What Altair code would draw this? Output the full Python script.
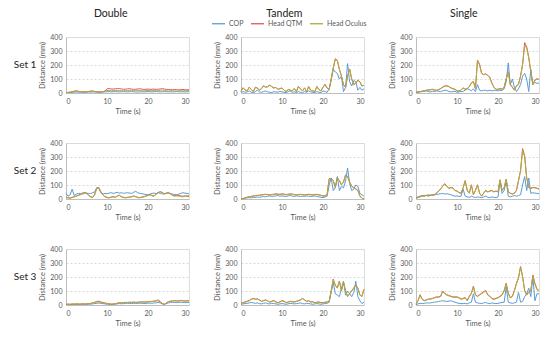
import altair as alt
import pandas as pd

T = [0, 0.5, 1, 1.5, 2, 2.5, 3, 3.5, 4, 4.5, 5, 5.5, 6, 6.5, 7, 7.5, 8, 8.5, 9, 9.5,
     10, 10.5, 11, 11.5, 12, 12.5, 13, 13.5, 14, 14.5, 15, 15.5, 16, 16.5, 17, 17.5, 18, 18.5, 19, 19.5,
     20, 20.5, 21, 21.5, 22, 22.5, 23, 23.5, 24, 24.5, 25, 25.5, 26, 26.5, 27, 27.5, 28, 28.5, 29, 29.5, 30]

SETS = ["Set 1", "Set 2", "Set 3"]
CONDS = ["Double", "Tandem", "Single"]
SERIES = ["COP", "Head QTM", "Head Oculus"]
COLORS = ["#5B9BD5", "#E5545A", "#A8B23C"]

# ---- Set 1 ----
s1_double_cop = [2,3,4,5,6,7,6,5,6,5, 6,7,6,8,7,6,5,6,7,8, 9,10,8,9,10,9,8,9,10,9,
                 8,9,10,9,8,7,8,9,8,9, 10,9,8,9,10,9,8,9,10,9, 8,9,8,9,10,9,8,9,8,9, 9]
s1_double_qtm = [3,4,6,8,13,15,12,10,9,8, 9,11,13,14,11,9,8,8,9,14, 30,31,29,28,30,31,32,29,27,28,
                 29,31,28,26,27,29,30,28,25,27, 28,26,27,28,26,27,29,31,28,26, 25,24,23,25,24,22,24,25,23,22, 24]
s1_double_ocu = [3,4,6,8,13,15,12,10,9,8, 9,11,13,14,11,9,8,8,9,12, 18,17,16,18,19,17,18,16,17,18,
                 17,19,18,16,18,19,17,16,15,17, 18,16,17,18,16,17,19,21,18,16, 15,17,16,15,14,16,17,15,16,17, 18]

s1_tandem_cop = [5,10,5,8,15,5,3,10,20,8, 5,10,15,8,5,3,10,8,5,12, 8,5,3,10,15,5,8,3,10,5,
                 3,10,5,15,8,5,3,10,5,3, 15,10,5,30,90,170,150,140,100,120, 10,40,210,80,50,90,80,20,40,20, 30]
s1_tandem_qtm = [12,38,22,15,42,25,10,42,36,20, 32,52,42,46,57,46,36,40,25,32, 36,20,10,26,20,15,32,10,47,30,
                 15,37,10,46,20,15,10,47,25,15, 42,62,35,25,100,180,245,232,170,120, 60,40,120,172,100,60,70,92,80,50, 55]
s1_tandem_ocu = [10,35,20,15,40,25,10,40,35,20, 30,50,40,45,55,45,35,40,25,30, 35,20,10,25,20,15,30,10,45,30,
                 15,35,10,45,20,15,10,45,25,15, 40,60,35,25,100,180,240,230,170,120, 60,40,120,170,100,60,70,90,80,50, 55]

s1_single_cop = [3,5,8,10,12,15,10,8,12,10, 15,12,10,15,20,18,12,8,10,12, 5,8,10,12,20,30,25,15,30,10,
                 60,20,15,20,18,15,20,15,18,20, 15,20,18,30,80,215,60,100,40,10, 30,60,120,140,100,10,170,60,75,70, 70]
s1_single_qtm = [5,8,10,13,16,20,22,24,27,22, 20,24,32,42,50,52,47,37,32,27, 17,14,22,37,27,32,47,72,82,32,
                 235,205,142,132,137,127,112,72,42,27, 27,32,27,42,102,152,62,42,22,52, 62,122,205,360,330,255,152,62,92,102, 97]
s1_single_ocu = [5,8,10,12,15,18,20,22,25,20, 18,22,30,40,48,50,45,35,30,25, 15,12,20,35,25,30,45,70,80,30,
                 230,200,140,130,135,125,110,70,40,25, 25,30,25,40,100,150,60,40,20,50, 60,120,200,340,320,250,150,60,90,100, 95]

# ---- Set 2 ----
s2_double_cop = [40,20,30,70,25,35,40,38,35,40, 42,40,38,45,50,80,75,45,35,40, 38,42,45,40,44,48,42,45,40,43,
                 45,42,40,48,55,45,40,38,35,32, 30,35,40,42,38,45,40,35,38,42, 40,38,35,32,30,35,40,45,42,40, 38]
s2_double_qtm = [12,9,6,12,16,22,27,32,42,47, 42,27,17,12,32,80,82,52,32,17, 12,9,14,17,12,22,27,17,12,10,
                 12,14,17,22,17,12,10,14,17,22, 27,32,24,22,37,47,52,47,37,42, 47,37,27,25,27,25,22,20,22,20, 18]
s2_double_ocu = [10,8,5,10,15,20,25,30,40,45, 40,25,15,10,30,78,80,50,30,15, 10,8,12,15,10,20,25,15,10,8,
                 10,12,15,20,15,10,8,12,15,20, 25,30,22,20,35,45,50,45,35,40, 45,35,25,20,22,20,18,15,20,22, 25]

s2_tandem_cop = [0,2,5,8,10,8,12,10,15,12, 15,18,15,20,22,18,20,22,25,20, 22,20,18,22,25,20,18,22,20,18,
                 20,18,22,20,18,20,22,18,15,12, 10,15,20,100,150,60,80,160,60,90, 80,130,220,110,60,70,100,90,40,30, 20]
s2_tandem_qtm = [0,3,8,13,16,19,22,24,27,27, 30,32,34,32,30,32,34,37,35,34, 37,35,32,34,37,35,32,30,32,34,
                 32,30,32,34,32,30,32,34,30,27, 22,24,32,145,148,132,82,152,132,102, 122,172,162,122,92,82,72,62,22,6, 0]
s2_tandem_ocu = [0,3,8,12,15,18,20,22,25,25, 28,30,32,30,28,30,32,35,33,32, 35,33,30,32,35,33,30,28,30,32,
                 30,28,30,32,30,28,30,32,28,25, 20,22,30,140,145,130,80,150,130,100, 120,170,160,120,90,80,70,60,20,5, 0]

s2_single_cop = [10,15,20,25,20,25,30,28,25,30, 32,35,38,40,35,38,35,30,25,20, 22,18,20,70,20,15,12,20,15,10,
                 15,12,10,15,20,12,10,15,12,10, 15,120,40,60,130,20,15,20,25,20, 25,30,100,160,60,150,40,45,42,40, 38]
s2_single_qtm = [6,11,17,22,24,27,22,27,30,32, 42,57,72,92,110,92,77,82,80,62, 57,47,42,82,132,62,42,102,32,62,
                 102,42,22,42,62,52,57,62,52,57, 52,138,62,82,142,52,42,37,42,62, 132,205,360,310,152,82,77,82,82,77, 72]
s2_single_ocu = [5,10,15,20,22,25,20,25,28,30, 40,55,70,90,105,90,75,80,78,60, 55,45,40,80,130,60,40,100,30,60,
                 100,40,20,40,60,50,55,60,50,55, 50,135,60,80,140,50,40,35,40,60, 130,200,350,300,150,80,75,80,80,75, 70]

# ---- Set 3 ----
s3_double_cop = [3,4,3,5,4,5,4,5,6,5, 6,5,6,8,10,12,14,12,10,8, 6,5,4,5,6,8,10,9,10,11,
                 12,11,10,12,11,12,13,12,11,12, 13,14,12,15,16,18,15,8,5,10, 15,18,20,18,17,19,20,18,17,19, 18]
s3_double_qtm = [5,6,5,7,6,8,7,6,8,7, 8,10,12,15,20,25,28,22,18,14, 12,9,6,7,9,13,16,15,17,19,
                 18,20,19,21,19,20,21,23,21,22, 23,25,26,28,30,30,22,10,5,15, 24,26,28,30,28,29,31,30,28,30, 28]
s3_double_ocu = [5,6,5,7,6,8,7,6,8,7, 8,9,10,12,15,20,22,18,15,12, 10,8,5,6,8,12,15,14,16,18,
                 17,19,18,20,18,19,20,22,20,21, 22,24,25,27,30,38,25,10,5,15, 25,28,30,32,30,31,33,32,30,32, 30]

s3_tandem_cop = [5,8,10,12,15,18,15,12,15,10, 8,12,15,10,8,12,10,8,5,8, 10,8,5,8,12,10,8,10,12,15,
                 10,8,12,10,8,5,8,10,8,5, 8,10,12,20,90,160,80,70,60,120, 170,70,100,80,60,90,170,60,30,10, 20]
s3_tandem_qtm = [12,17,22,27,32,42,47,42,44,37, 27,32,37,30,22,27,32,22,17,22, 32,27,17,22,27,24,22,27,32,37,
                 47,37,27,32,22,24,17,20,22,17, 17,20,22,27,102,185,142,122,172,102, 162,102,62,82,102,122,142,122,72,62, 112]
s3_tandem_ocu = [10,15,20,25,30,40,45,40,42,35, 25,30,35,28,20,25,30,20,15,20, 30,25,15,20,25,22,20,25,30,35,
                 45,35,25,30,20,22,15,18,20,15, 15,18,20,25,100,180,140,120,170,100, 160,100,60,80,100,120,140,120,70,60, 110]

s3_single_cop = [3,8,12,10,12,15,14,15,18,20, 22,25,28,30,28,25,28,30,25,20, 15,12,10,10,12,8,15,20,80,20,
                 15,12,10,15,18,12,10,15,12,10, 12,15,18,20,130,20,15,12,15,20, 90,20,25,60,80,120,60,200,30,80, 80]
s3_single_qtm = [6,32,74,42,32,37,42,44,47,53, 58,58,63,100,84,74,68,63,58,58, 58,53,42,48,53,32,63,84,135,74,
                 63,74,84,95,104,74,63,48,42,48, 53,63,74,104,156,84,53,63,104,156, 196,275,206,104,74,94,104,215,156,114, 104]
s3_single_ocu = [5,30,70,40,30,35,40,42,45,50, 55,55,60,95,80,70,65,60,55,55, 55,50,40,45,50,30,60,80,130,70,
                 60,70,80,90,100,70,60,45,40,45, 50,60,70,100,150,80,50,60,100,150, 190,270,200,100,70,90,100,210,150,110, 100]

panels = {
    ("Set 1", "Double"): [s1_double_cop, s1_double_qtm, s1_double_ocu],
    ("Set 1", "Tandem"): [s1_tandem_cop, s1_tandem_qtm, s1_tandem_ocu],
    ("Set 1", "Single"): [s1_single_cop, s1_single_qtm, s1_single_ocu],
    ("Set 2", "Double"): [s2_double_cop, s2_double_qtm, s2_double_ocu],
    ("Set 2", "Tandem"): [s2_tandem_cop, s2_tandem_qtm, s2_tandem_ocu],
    ("Set 2", "Single"): [s2_single_cop, s2_single_qtm, s2_single_ocu],
    ("Set 3", "Double"): [s3_double_cop, s3_double_qtm, s3_double_ocu],
    ("Set 3", "Tandem"): [s3_tandem_cop, s3_tandem_qtm, s3_tandem_ocu],
    ("Set 3", "Single"): [s3_single_cop, s3_single_qtm, s3_single_ocu],
}

rows = []
for (st, cond), series_list in panels.items():
    for k, (name, vals) in enumerate(zip(SERIES, series_list)):
        for t, v in zip(T, vals):
            rows.append({"set": st, "cond": cond, "series": name, "k": k, "time": t, "value": v})
df = pd.DataFrame(rows)

FONT = "Lato"
GREY = "#595959"

base = alt.Chart(df).mark_line(strokeWidth=1).encode(
    x=alt.X("time:Q", scale=alt.Scale(domain=[0, 30], nice=False),
            axis=alt.Axis(values=[0, 10, 20, 30], title="Time (s)", grid=False, ticks=False,
                          domainColor="#BFBFBF", labelFontSize=7, labelColor=GREY,
                          titleFontSize=7.5, titleColor=GREY, titleFontWeight="normal",
                          labelPadding=4, titlePadding=3)),
    y=alt.Y("value:Q", scale=alt.Scale(domain=[0, 400], nice=False),
            axis=alt.Axis(values=[0, 100, 200, 300, 400], title="Distance (mm)", ticks=False,
                          domainColor="#BFBFBF", gridColor="#D9D9D9", gridDash=[2, 2],
                          labelFontSize=7, labelColor=GREY, titleFontSize=7.5, titleColor=GREY,
                          titleFontWeight="normal", labelPadding=4, titlePadding=3)),
    color=alt.Color("series:N", scale=alt.Scale(domain=SERIES, range=COLORS),
                    legend=alt.Legend(orient="none", direction="horizontal", title=None,
                                      legendX=145, legendY=-21, symbolType="stroke",
                                      symbolSize=169, symbolStrokeWidth=1.3, labelFontSize=7,
                                      labelOffset=3, labelColor=GREY, columnPadding=4,
                                      labelFont=FONT)),
    detail="k:N",
).properties(width=123, height=56)

chart = base.facet(
    row=alt.Row("set:N", sort=SETS,
                header=alt.Header(title=None, labelAngle=0, labelOrient="left", labelFontSize=10,
                                  labelFont=FONT, labelColor="#222222", labelPadding=7,
                                  labelFontWeight="normal")),
    column=alt.Column("cond:N", sort=CONDS,
                      header=alt.Header(title=None, labelFontSize=10.5, labelFont=FONT,
                                        labelColor="#222222", labelPadding=18,
                                        labelAlign="right", labelFontWeight="normal")),
    spacing={"row": 50, "column": 52},
    bounds="flush",
).resolve_axis(x="independent", y="independent").properties(
    padding={"left": 5, "top": 0, "right": 0, "bottom": 0}
).configure_view(stroke=None).configure(font=FONT)

chart.save("out.html", embed_options={"renderer": "svg", "actions": False})
